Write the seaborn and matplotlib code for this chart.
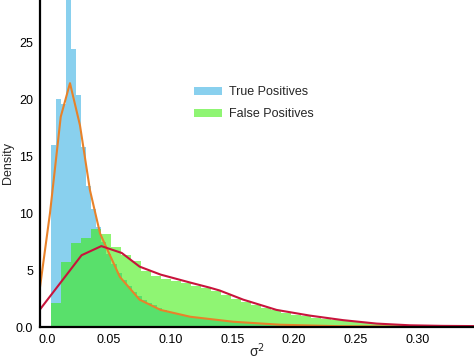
import matplotlib
matplotlib.use("Agg")
import matplotlib.pyplot as plt
import numpy as np
import pandas as pd
import seaborn as sns

# histogram bins
tp_start, tp_width = 0.003, 0.0041
fp_start, fp_width = 0.003, 0.0081

tp_heights = [16.0, 20.0, 19.6, 31.0, 24.4, 20.4, 15.8, 12.4, 10.4, 8.8,
              7.5, 6.4, 5.5, 4.7, 4.1, 3.6, 3.1, 2.7, 2.4, 2.1,
              1.9, 1.7, 1.5, 1.35, 1.25, 1.15, 1.05, 0.95, 0.88, 0.8,
              0.74, 0.68, 0.63, 0.58, 0.54, 0.5, 0.46, 0.43, 0.4, 0.37,
              0.34, 0.31, 0.28, 0.26, 0.24, 0.22, 0.2, 0.18, 0.16, 0.15,
              0.13, 0.12, 0.11, 0.1, 0.09, 0.08, 0.07, 0.06, 0.05, 0.04]

fp_heights = [2.07, 5.67, 7.4, 7.8, 8.6, 8.2, 7.0, 6.3, 5.8, 4.9,
              4.5, 4.2, 4.0, 3.85, 3.6, 3.4, 3.15, 2.85, 2.5, 2.2,
              1.9, 1.68, 1.45, 1.25, 1.08, 0.95, 0.8, 0.7, 0.6, 0.5,
              0.42, 0.35, 0.28, 0.22, 0.18, 0.14, 0.11, 0.08, 0.06, 0.04, 0.03]

# density curves
tp_curve_x = [-0.006, 0.0024, 0.0111, 0.0186, 0.0267, 0.0348, 0.043, 0.048,
              0.059, 0.075, 0.092, 0.116, 0.151, 0.189, 0.237, 0.30, 0.346]
tp_curve_y = [3.25, 10.0, 18.45, 21.4, 17.7, 12.0, 8.2, 7.0,
              4.4, 2.4, 1.5, 0.9, 0.46, 0.2, 0.07, 0.02, 0.01]

fp_curve_x = [-0.006, 0.028, 0.044, 0.0605, 0.075, 0.092, 0.116, 0.132,
              0.140, 0.159, 0.186, 0.213, 0.240, 0.267, 0.294, 0.32, 0.346]
fp_curve_y = [1.5, 6.3, 7.1, 6.5, 5.3, 4.6, 3.9, 3.45,
              3.2, 2.4, 1.5, 1.0, 0.6, 0.3, 0.15, 0.1, 0.08]

x_ticks = [0.0, 0.05, 0.10, 0.15, 0.20, 0.25, 0.30]
x_ticklabels = ["0.0", "0.05", "0.10", "0.15", "0.20", "0.25", "0.30"]
y_ticks = [0, 5, 10, 15, 20, 25]
y_ticklabels = ["0.0", "5", "10", "15", "20", "25"]

sns.set_style("white")
plt.rcParams['font.family'] = ['Liberation Sans', 'DejaVu Sans']

fig = plt.figure(figsize=(4.74, 3.61), dpi=100, facecolor='white')
ax = fig.add_axes([40 / 474, 34 / 361, 434 / 474, 327 / 361])

tp_df = pd.DataFrame({
    'x': tp_start + tp_width * (np.arange(len(tp_heights)) + 0.5),
    'w': tp_heights})
fp_df = pd.DataFrame({
    'x': fp_start + fp_width * (np.arange(len(fp_heights)) + 0.5),
    'w': fp_heights})

sns.histplot(data=tp_df, x='x', weights='w', binwidth=tp_width,
             binrange=(tp_start, tp_start + tp_width * len(tp_heights)),
             ax=ax, color='#89d0ee', alpha=1.0, linewidth=0,
             label='True Positives')
sns.lineplot(x=tp_curve_x, y=tp_curve_y, ax=ax, color='#e8822a',
             linewidth=1.5, sort=False, estimator=None)
sns.lineplot(x=fp_curve_x, y=fp_curve_y, ax=ax, color='#c8143c',
             linewidth=1.5, sort=False, estimator=None)
sns.histplot(data=fp_df, x='x', weights='w', binwidth=fp_width,
             binrange=(fp_start, fp_start + fp_width * len(fp_heights)),
             ax=ax, color='#33ee00', alpha=0.55, linewidth=0,
             label='False Positives')

ax.set_xlim(-0.0057, 0.346)
ax.set_ylim(0, 28.7)
ax.set_xticks(x_ticks)
ax.set_xticklabels(x_ticklabels)
ax.set_yticks(y_ticks)
ax.set_yticklabels(y_ticklabels)
ax.tick_params(axis='both', length=0, labelsize=9, colors='black')
ax.tick_params(axis='x', pad=5)
ax.tick_params(axis='y', pad=5)

sns.despine(ax=ax)
for s in ['left', 'bottom']:
    ax.spines[s].set_color('black')
    ax.spines[s].set_linewidth(1.6)

ax.set_xlabel('σ$^{2}$', fontsize=10, labelpad=-3)
ax.set_ylabel('Density', fontsize=9, labelpad=1)

ax.legend(loc='upper left', bbox_to_anchor=(0.355, 0.736), frameon=False,
          fontsize=9, borderpad=0, borderaxespad=0, handlelength=2.2,
          handleheight=0.7, handletextpad=0.6, labelspacing=0.8)

plt.savefig("out.png", dpi=100, facecolor='white')
